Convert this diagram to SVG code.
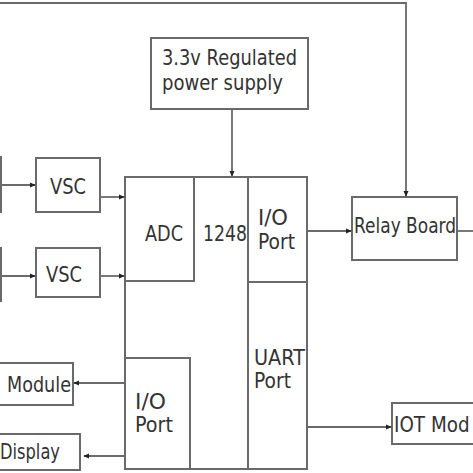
<svg xmlns="http://www.w3.org/2000/svg" width="473" height="473" viewBox="0 0 473 473">
<style>
.box{fill:#fff;stroke:#6a6a6a;stroke-width:2}
.ln{fill:none;stroke:#6a6a6a;stroke-width:2}
.t{font-family:"DejaVu Sans",Verdana,sans-serif;font-size:21px;fill:#333}
.s{font-family:"DejaVu Sans",Verdana,sans-serif;font-size:17px;fill:#333}
.c{fill:none;stroke:#6a6a6a;stroke-width:1.8;marker-end:url(#ah)}
</style>
<defs>
<marker id="ah" viewBox="0 0 8 8" refX="7" refY="4" markerWidth="6" markerHeight="6" markerUnits="userSpaceOnUse" orient="auto">
<path d="M0,0.5 L8,4 L0,7.5 Z" fill="#222"/>
</marker>
</defs>
<rect width="473" height="473" fill="#fff"/>

<g id="input1"><line class="ln" x1="1" y1="156" x2="1" y2="213"/></g>
<g id="input2"><line class="ln" x1="1" y1="247" x2="1" y2="302"/></g>

<g id="psu">
<rect class="box" x="151" y="38" width="157" height="71"/>
<text class="t" x="162" y="65" textLength="135" lengthAdjust="spacingAndGlyphs">3.3v Regulated</text>
<text class="t" x="162" y="90" textLength="121" lengthAdjust="spacingAndGlyphs">power supply</text>
</g>

<g id="vsc1">
<rect class="box" x="36" y="158" width="64" height="54"/>
<text class="t" x="50" y="194" textLength="36" lengthAdjust="spacingAndGlyphs">VSC</text>
</g>
<g id="vsc2">
<rect class="box" x="36" y="248" width="64" height="49"/>
<text class="t" x="46" y="282" textLength="36" lengthAdjust="spacingAndGlyphs">VSC</text>
</g>

<g id="mcu">
<rect class="box" x="125" y="177" width="182" height="292"/>
<text class="t" x="203" y="241" textLength="44" lengthAdjust="spacingAndGlyphs">1248</text>
<g id="adc">
<rect class="box" x="125" y="177" width="69" height="104"/>
<text class="t" x="145" y="241" textLength="38" lengthAdjust="spacingAndGlyphs">ADC</text>
</g>
<g id="io-top">
<rect class="box" x="248" y="177" width="59" height="105"/>
<text class="t" x="258" y="225" textLength="30" lengthAdjust="spacingAndGlyphs">I/O</text>
<text class="t" x="258" y="249" textLength="37" lengthAdjust="spacingAndGlyphs">Port</text>
</g>
<g id="uart">
<rect class="box" x="248" y="282" width="59" height="187"/>
<text class="t" x="254" y="365" textLength="51" lengthAdjust="spacingAndGlyphs">UART</text>
<text class="t" x="254" y="388" textLength="37" lengthAdjust="spacingAndGlyphs">Port</text>
</g>
<g id="io-bottom">
<rect class="box" x="125" y="358" width="65" height="111"/>
<text class="t" x="135" y="409" textLength="31" lengthAdjust="spacingAndGlyphs">I/O</text>
<text class="t" x="135" y="432" textLength="38" lengthAdjust="spacingAndGlyphs">Port</text>
</g>
</g>

<g id="relay">
<rect class="box" x="352" y="197" width="105" height="63"/>
<text class="s" transform="translate(354,233) scale(1,1.26)">Relay Board</text>
</g>

<g id="module">
<rect class="box" x="-2" y="363" width="75" height="42"/>
<text class="t" x="7" y="392" textLength="64" lengthAdjust="spacingAndGlyphs">Module</text>
</g>

<g id="display">
<rect class="box" x="-2" y="434" width="82" height="36"/>
<text class="t" x="0" y="459" textLength="60" lengthAdjust="spacingAndGlyphs">Display</text>
</g>

<g id="iot">
<rect class="box" x="392" y="403" width="90" height="41"/>
<text class="s" transform="translate(394,432) scale(1.08,1.26)">IOT Mod</text>
</g>

<g id="connectors">
<path class="c" d="M232,109 V176"/>
<path class="c" d="M0,3 H406 V196"/>
<path class="c" d="M1,185 H35"/>
<path class="c" d="M1,276 H35"/>
<path class="c" d="M100,197 H124"/>
<path class="c" d="M100,276 H124"/>
<path class="c" d="M307,231 H351"/>
<path class="ln" d="M457,231 H473" style="stroke-width:1.8"/>
<path class="c" d="M125,383 H74"/>
<path class="c" d="M125,456 H84"/>
<path class="c" d="M307,427 H391"/>
</g>
</svg>
